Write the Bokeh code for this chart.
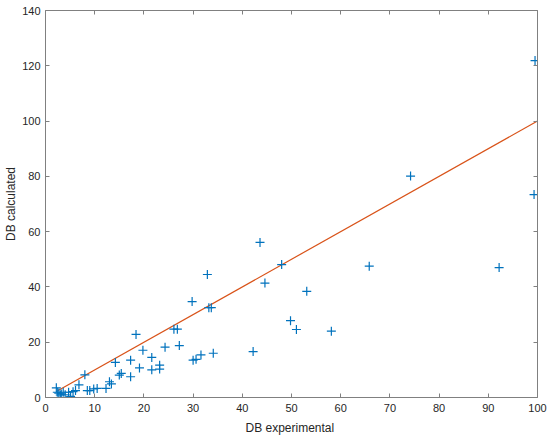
from bokeh.plotting import figure
from bokeh.models import LinearAxis, Range1d, FixedTicker, ColumnDataSource, CustomJSTickFormatter
from bokeh.embed import file_html
from bokeh.resources import INLINE

# Data
db_experimental = [2.2, 2.4, 2.7, 3.0, 3.2, 3.6, 4.0, 4.7, 5.1, 5.6, 6.1, 6.8, 8.0, 8.5,
                   9.0, 9.8, 10.5, 12.3, 13.0, 13.4, 14.2, 15.0, 15.4, 17.3, 17.3, 18.4,
                   19.1, 19.8, 21.6, 21.6, 23.2, 23.2, 24.3, 26.1, 26.8, 27.2, 29.8, 30.0,
                   30.6, 31.6, 32.9, 33.2, 33.7, 34.1, 42.2, 43.6, 44.6, 48.0, 49.8, 51.0,
                   53.1, 58.1, 65.8, 74.2, 92.2, 99.3, 99.5]
db_calculated = [3.5, 1.9, 1.6, 0.9, 1.3, 1.9, 1.0, 1.9, 0.4, 2.1, 2.5, 4.6, 8.2, 2.5,
                 2.5, 3.1, 3.3, 3.3, 5.7, 4.9, 12.7, 8.1, 8.7, 13.5, 7.5, 22.8,
                 10.7, 17.1, 14.5, 10.0, 11.7, 10.3, 18.2, 24.7, 24.7, 18.8, 34.7, 13.5,
                 13.8, 15.4, 44.5, 32.5, 32.5, 16.0, 16.6, 56.1, 41.4, 48.1, 27.8, 24.6,
                 38.4, 24.0, 47.5, 80.1, 47.0, 73.4, 121.9]
line_x = [2.2, 100]
line_y = [2.2, 100]
x_ticks = [0, 10, 20, 30, 40, 50, 60, 70, 80, 90, 100]
y_ticks = [0, 20, 40, 60, 80, 100, 120, 140]

FONT = "Liberation Sans"
AXIS_COLOR = "#808080"
TEXT_COLOR = "#262626"

p = figure(width=550, height=437, output_backend="svg", toolbar_location=None,
           x_range=Range1d(0, 100), y_range=Range1d(0, 140),
           x_axis_label="DB  experimental", y_axis_label="DB calculated",
           min_border_left=45, min_border_bottom=38, min_border_top=10, min_border_right=13)
p.outline_line_color = None
p.xgrid.visible = False
p.ygrid.visible = False
p.background_fill_color = "white"
p.border_fill_color = "white"

def style(ax, ticks, labels=True):
    ax.ticker = FixedTicker(ticks=ticks)
    ax.major_tick_in = 4
    ax.major_tick_out = 0
    ax.minor_tick_in = 0
    ax.minor_tick_out = 0
    ax.axis_line_color = AXIS_COLOR
    ax.major_tick_line_color = AXIS_COLOR
    ax.major_label_text_font = FONT
    ax.major_label_text_font_size = "11px"
    ax.major_label_text_color = TEXT_COLOR
    ax.major_label_standoff = 5
    ax.axis_label_text_font = FONT
    ax.axis_label_text_font_size = "12px"
    ax.axis_label_text_font_style = "normal"
    ax.axis_label_text_color = TEXT_COLOR
    ax.axis_label_standoff = 1
    if not labels:
        ax.formatter = CustomJSTickFormatter(code="return ''")
        ax.major_label_text_font_size = "1px"
        ax.major_label_standoff = 0

style(p.xaxis[0], x_ticks)
p.xaxis[0].major_label_standoff = 6
p.xaxis[0].axis_label_standoff = 6
style(p.yaxis[0], y_ticks)

top = LinearAxis()
style(top, x_ticks, labels=False)
right = LinearAxis()
style(right, y_ticks, labels=False)
p.add_layout(top, "above")
p.add_layout(right, "right")

p.line(line_x, line_y, line_color="#D95319", line_width=1.2)
src = ColumnDataSource(dict(x=db_experimental, y=db_calculated))
p.scatter("x", "y", source=src, marker="cross", size=9, line_color="#0072BD", line_width=1.2)

open("out.html", "w").write(file_html(p, INLINE))
